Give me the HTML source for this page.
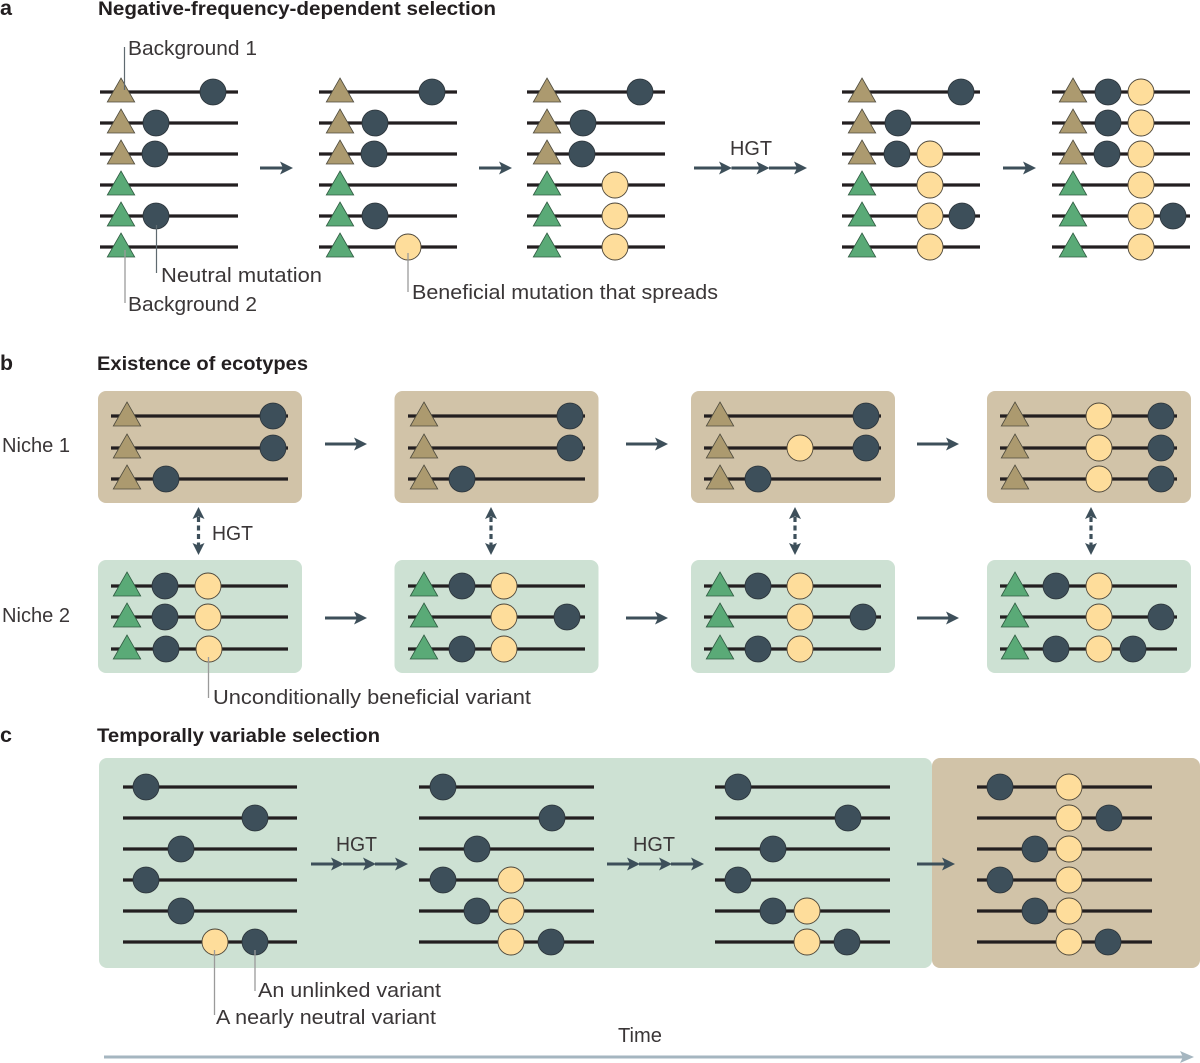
<!DOCTYPE html>
<html><head><meta charset="utf-8"><style>
html,body{margin:0;padding:0;background:#fff}
svg{display:block}
text{font-family:"Liberation Sans",sans-serif;font-size:20px;fill:#3a3637}
.h{font-weight:bold;font-size:19px;fill:#231f20}
.l{font-weight:bold;font-size:21px;fill:#231f20}
.ln{fill:none;stroke:#231f20;stroke-width:3.2}
.ld{fill:none;stroke:#9a9a9a;stroke-width:1.3}
.ld2{fill:none;stroke:#5f6a70;stroke-width:1.2}
</style></head><body>
<svg width="1200" height="1063" viewBox="0 0 1200 1063" xmlns="http://www.w3.org/2000/svg">
<defs>
<circle id="d" r="13" fill="#3d4f5a" stroke="#2a3238" stroke-width="0.8"/>
<circle id="y" r="13" fill="#fedd9b" stroke="#4c463a" stroke-width="0.9"/>
<path id="b" d="M0,-14 L13.7,10 H-13.7 Z" fill="#ac9a6f" stroke="#4d4a3d" stroke-width="0.8"/>
<path id="g" d="M0,-14 L13.7,10 H-13.7 Z" fill="#5aaa77" stroke="#2e5a40" stroke-width="0.8"/>
<g id="a"><path d="M0,0H26" stroke="#3d4f5a" stroke-width="3" fill="none"/><path d="M20,-6.5 L33,0 L20,6.5 L23,0 Z" fill="#3d4f5a"/></g>
<g id="a3"><path d="M0,0H31" stroke="#3d4f5a" stroke-width="3" fill="none"/><path d="M25,-6.5 L38,0 L25,6.5 L28,0 Z" fill="#3d4f5a"/></g>
<g id="a2"><path d="M0,0H35" stroke="#3d4f5a" stroke-width="3" fill="none"/><path d="M29,-6.5 L42,0 L29,6.5 L32,0 Z" fill="#3d4f5a"/></g>
<g id="v"><path d="M0,10V39" stroke="#3d4f5a" stroke-width="3.2" stroke-dasharray="5 3.5" fill="none"/><path d="M0,0 L6,12 L0,9.5 L-6,12 Z M0,48 L6,36 L0,38.5 L-6,36 Z" fill="#3d4f5a"/></g>
</defs>

<!-- panel backgrounds -->
<rect x="98" y="391" width="204" height="112" rx="8" fill="#d1c3a8"/>
<rect x="394.500" y="391" width="204" height="112" rx="8" fill="#d1c3a8"/>
<rect x="691" y="391" width="204" height="112" rx="8" fill="#d1c3a8"/>
<rect x="987" y="391" width="204" height="112" rx="8" fill="#d1c3a8"/>
<rect x="98" y="560" width="204" height="113" rx="8" fill="#cde1d3"/>
<rect x="394.500" y="560" width="204" height="113" rx="8" fill="#cde1d3"/>
<rect x="691" y="560" width="204" height="113" rx="8" fill="#cde1d3"/>
<rect x="987" y="560" width="204" height="113" rx="8" fill="#cde1d3"/>
<rect x="99" y="758" width="833" height="210" rx="8" fill="#cde1d3"/>
<rect x="932" y="758" width="268" height="210" rx="8" fill="#d1c3a8"/>

<!-- headings -->
<text class="l" x="0" y="15" textLength="12" lengthAdjust="spacingAndGlyphs">a</text>
<text class="h" x="98" y="15" textLength="398" lengthAdjust="spacingAndGlyphs">Negative-frequency-dependent selection</text>
<text class="l" x="0" y="370" textLength="13" lengthAdjust="spacingAndGlyphs">b</text>
<text class="h" x="97" y="370" textLength="211" lengthAdjust="spacingAndGlyphs">Existence of ecotypes</text>
<text class="l" x="0" y="742" textLength="12" lengthAdjust="spacingAndGlyphs">c</text>
<text class="h" x="97" y="742" textLength="283" lengthAdjust="spacingAndGlyphs">Temporally variable selection</text>

<!-- section a lines -->
<path class="ln" d="M100,92h138M100,123h138M100,154h138M100,185h138M100,216h138M100,247h138
M319,92h138M319,123h138M319,154h138M319,185h138M319,216h138M319,247h138
M527,92h138M527,123h138M527,154h138M527,185h138M527,216h138M527,247h138
M842,92h138M842,123h138M842,154h138M842,185h138M842,216h138M842,247h138
M1052,92h138M1052,123h138M1052,154h138M1052,185h138M1052,216h138M1052,247h138"/>
<!-- section a group 1 -->
<use href="#b" x="121" y="92"/><use href="#b" x="121" y="123"/><use href="#b" x="121" y="154"/><use href="#g" x="121" y="185"/><use href="#g" x="121" y="216"/><use href="#g" x="121" y="247"/>
<use href="#d" x="213" y="92"/><use href="#d" x="156" y="123"/><use href="#d" x="155" y="154"/><use href="#d" x="156" y="216"/>
<!-- group 2 -->
<use href="#b" x="340" y="92"/><use href="#b" x="340" y="123"/><use href="#b" x="340" y="154"/><use href="#g" x="340" y="185"/><use href="#g" x="340" y="216"/><use href="#g" x="340" y="247"/>
<use href="#d" x="432" y="92"/><use href="#d" x="375" y="123"/><use href="#d" x="374" y="154"/><use href="#d" x="375" y="216"/><use href="#y" x="408" y="247"/>
<!-- group 3 -->
<use href="#b" x="547" y="92"/><use href="#b" x="547" y="123"/><use href="#b" x="547" y="154"/><use href="#g" x="547" y="185"/><use href="#g" x="547" y="216"/><use href="#g" x="547" y="247"/>
<use href="#d" x="640" y="92"/><use href="#d" x="583" y="123"/><use href="#d" x="582" y="154"/><use href="#y" x="615" y="185"/><use href="#y" x="615" y="216"/><use href="#y" x="615" y="247"/>
<!-- group 4 -->
<use href="#b" x="862" y="92"/><use href="#b" x="862" y="123"/><use href="#b" x="862" y="154"/><use href="#g" x="862" y="185"/><use href="#g" x="862" y="216"/><use href="#g" x="862" y="247"/>
<use href="#d" x="961" y="92"/><use href="#d" x="898" y="123"/><use href="#d" x="897" y="154"/><use href="#y" x="930" y="154"/><use href="#y" x="930" y="185"/><use href="#d" x="962" y="216"/><use href="#y" x="930" y="216"/><use href="#y" x="930" y="247"/>
<!-- group 5 -->
<use href="#b" x="1073" y="92"/><use href="#b" x="1073" y="123"/><use href="#b" x="1073" y="154"/><use href="#g" x="1073" y="185"/><use href="#g" x="1073" y="216"/><use href="#g" x="1073" y="247"/>
<use href="#d" x="1108" y="92"/><use href="#y" x="1141" y="92"/><use href="#d" x="1108" y="123"/><use href="#y" x="1141" y="123"/><use href="#d" x="1107" y="154"/><use href="#y" x="1141" y="154"/><use href="#y" x="1141" y="185"/><use href="#d" x="1173" y="216"/><use href="#y" x="1141" y="216"/><use href="#y" x="1141" y="247"/>

<!-- section a arrows -->
<use href="#a" x="260" y="168"/><use href="#a" x="479" y="168"/>
<use href="#a3" x="694" y="168"/><use href="#a3" x="731.500" y="168"/><use href="#a3" x="769" y="168"/>
<use href="#a" x="1003" y="168"/>

<!-- section a leaders + labels -->
<path class="ld2" d="M124.500,47V90"/>
<path class="ld" d="M125,250V303"/>
<path class="ld2" d="M156.500,225V273"/>
<path class="ld" d="M408,253V292"/>
<text x="128" y="55" textLength="129" lengthAdjust="spacingAndGlyphs">Background 1</text>
<text x="161" y="282" textLength="161" lengthAdjust="spacingAndGlyphs">Neutral mutation</text>
<text x="128" y="311" textLength="129" lengthAdjust="spacingAndGlyphs">Background 2</text>
<text x="412" y="299" textLength="306" lengthAdjust="spacingAndGlyphs">Beneficial mutation that spreads</text>
<text x="730" y="155" textLength="42" lengthAdjust="spacingAndGlyphs">HGT</text>

<!-- section b lines -->
<path class="ln" d="M111,416h177M111,448h177M111,479h177M111,586h177M111,617h177M111,649h177
M408,416h177M408,448h177M408,479h177M408,586h177M408,617h177M408,649h177
M704,416h177M704,448h177M704,479h177M704,586h177M704,617h177M704,649h177
M1000,416h177M1000,448h177M1000,479h177M1000,586h177M1000,617h177M1000,649h177"/>
<!-- b col 1 -->
<use href="#b" x="127" y="416"/><use href="#b" x="127" y="448"/><use href="#b" x="127" y="479"/><use href="#g" x="127" y="586"/><use href="#g" x="127" y="617"/><use href="#g" x="127" y="649"/>
<use href="#d" x="273" y="416"/><use href="#d" x="273" y="448"/><use href="#d" x="166" y="479"/>
<use href="#d" x="165" y="586"/><use href="#y" x="208" y="586"/><use href="#d" x="165" y="617"/><use href="#y" x="208" y="617"/><use href="#d" x="166" y="649"/><use href="#y" x="209" y="649"/>
<!-- b col 2 -->
<use href="#b" x="424" y="416"/><use href="#b" x="424" y="448"/><use href="#b" x="424" y="479"/><use href="#g" x="424" y="586"/><use href="#g" x="424" y="617"/><use href="#g" x="424" y="649"/>
<use href="#d" x="570" y="416"/><use href="#d" x="570" y="448"/><use href="#d" x="462" y="479"/>
<use href="#d" x="462" y="586"/><use href="#y" x="504" y="586"/><use href="#y" x="504" y="617"/><use href="#d" x="567" y="617"/><use href="#d" x="462" y="649"/><use href="#y" x="504" y="649"/>
<!-- b col 3 -->
<use href="#b" x="720" y="416"/><use href="#b" x="720" y="448"/><use href="#b" x="720" y="479"/><use href="#g" x="720" y="586"/><use href="#g" x="720" y="617"/><use href="#g" x="720" y="649"/>
<use href="#d" x="866" y="416"/><use href="#y" x="800" y="448"/><use href="#d" x="866" y="448"/><use href="#d" x="758" y="479"/>
<use href="#d" x="758" y="586"/><use href="#y" x="800" y="586"/><use href="#y" x="800" y="617"/><use href="#d" x="863" y="617"/><use href="#d" x="758" y="649"/><use href="#y" x="800" y="649"/>
<!-- b col 4 -->
<use href="#b" x="1015" y="416"/><use href="#b" x="1015" y="448"/><use href="#b" x="1015" y="479"/><use href="#g" x="1015" y="586"/><use href="#g" x="1015" y="617"/><use href="#g" x="1015" y="649"/>
<use href="#y" x="1099" y="416"/><use href="#d" x="1161" y="416"/><use href="#y" x="1099" y="448"/><use href="#d" x="1161" y="448"/><use href="#y" x="1099" y="479"/><use href="#d" x="1161" y="479"/>
<use href="#d" x="1056" y="586"/><use href="#y" x="1099" y="586"/><use href="#y" x="1099" y="617"/><use href="#d" x="1161" y="617"/><use href="#d" x="1056" y="649"/><use href="#y" x="1099" y="649"/><use href="#d" x="1133" y="649"/>

<!-- b arrows -->
<use href="#a2" x="325" y="444"/><use href="#a2" x="626" y="444"/><use href="#a2" x="917" y="444"/>
<use href="#a2" x="325" y="618"/><use href="#a2" x="626" y="618"/><use href="#a2" x="917" y="618"/>
<use href="#v" x="198.500" y="507"/><use href="#v" x="491" y="507"/><use href="#v" x="795" y="507"/><use href="#v" x="1091" y="507"/>

<!-- b labels -->
<text x="2" y="452" textLength="68" lengthAdjust="spacingAndGlyphs">Niche 1</text>
<text x="2" y="622" textLength="68" lengthAdjust="spacingAndGlyphs">Niche 2</text>
<text x="212" y="540" textLength="41" lengthAdjust="spacingAndGlyphs">HGT</text>
<path class="ld" d="M208.500,657V698"/>
<text x="213" y="704" textLength="318" lengthAdjust="spacingAndGlyphs">Unconditionally beneficial variant</text>

<!-- section c lines -->
<path class="ln" d="M123,787h174M123,818h174M123,849h174M123,880h174M123,911h174M123,942h174
M419,787h175M419,818h175M419,849h175M419,880h175M419,911h175M419,942h175
M715,787h175M715,818h175M715,849h175M715,880h175M715,911h175M715,942h175
M977,787h175M977,818h175M977,849h175M977,880h175M977,911h175M977,942h175"/>
<!-- c col 1 -->
<use href="#d" x="146" y="787"/><use href="#d" x="255" y="818"/><use href="#d" x="181" y="849"/><use href="#d" x="146" y="880"/><use href="#d" x="181" y="911"/><use href="#y" x="215" y="942"/><use href="#d" x="255" y="942"/>
<!-- c col 2 -->
<use href="#d" x="443" y="787"/><use href="#d" x="552" y="818"/><use href="#d" x="477" y="849"/><use href="#d" x="443" y="880"/><use href="#y" x="511" y="880"/><use href="#d" x="477" y="911"/><use href="#y" x="511" y="911"/><use href="#y" x="511" y="942"/><use href="#d" x="551" y="942"/>
<!-- c col 3 -->
<use href="#d" x="738" y="787"/><use href="#d" x="848" y="818"/><use href="#d" x="773" y="849"/><use href="#d" x="738" y="880"/><use href="#d" x="773" y="911"/><use href="#y" x="807" y="911"/><use href="#y" x="807" y="942"/><use href="#d" x="847" y="942"/>
<!-- c col 4 -->
<use href="#d" x="1000" y="787"/><use href="#y" x="1069" y="787"/><use href="#y" x="1069" y="818"/><use href="#d" x="1109" y="818"/><use href="#d" x="1035" y="849"/><use href="#y" x="1069" y="849"/><use href="#d" x="1000" y="880"/><use href="#y" x="1069" y="880"/><use href="#d" x="1035" y="911"/><use href="#y" x="1069" y="911"/><use href="#y" x="1069" y="942"/><use href="#d" x="1108" y="942"/>

<!-- c arrows -->
<use href="#a" x="311" y="864"/><use href="#a" x="343" y="864"/><use href="#a" x="375" y="864"/>
<use href="#a" x="607" y="864"/><use href="#a" x="639" y="864"/><use href="#a" x="671" y="864"/>
<use href="#a3" x="917" y="864"/>

<!-- c labels -->
<text x="336" y="851" textLength="41" lengthAdjust="spacingAndGlyphs">HGT</text>
<text x="633" y="851" textLength="42" lengthAdjust="spacingAndGlyphs">HGT</text>
<path class="ld" d="M214.500,950V1015"/>
<path class="ld" d="M255,950V991"/>
<text x="258" y="997" textLength="183" lengthAdjust="spacingAndGlyphs">An unlinked variant</text>
<text x="216" y="1024" textLength="220" lengthAdjust="spacingAndGlyphs">A nearly neutral variant</text>
<text x="618" y="1042" textLength="44" lengthAdjust="spacingAndGlyphs">Time</text>

<!-- time arrow -->
<path d="M104,1057H1185" stroke="#a5b6c0" stroke-width="3" fill="none"/>
<path d="M1180,1051 L1194,1057 L1180,1063 L1183,1057 Z" fill="#a5b6c0"/>
</svg>
</body></html>
